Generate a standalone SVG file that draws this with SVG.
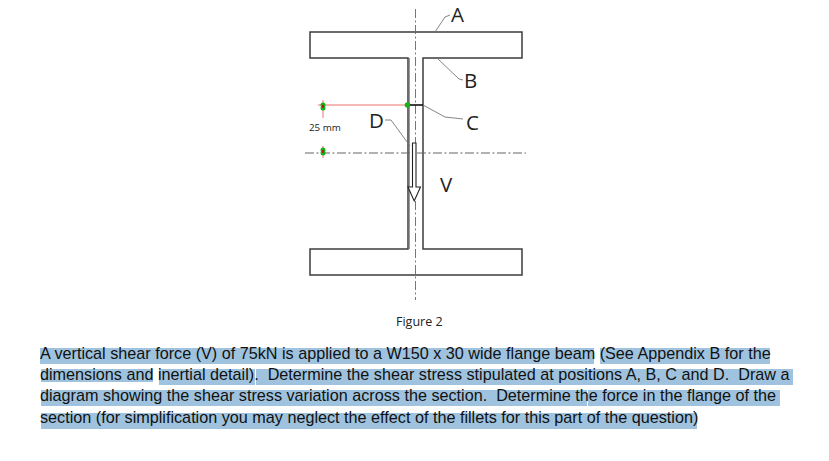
<svg xmlns="http://www.w3.org/2000/svg" width="829" height="461" viewBox="0 0 829 461">
<style>
.beam{fill:#fff;stroke:#3c3c3c;stroke-width:1.5}
.webline{fill:none;stroke:#999;stroke-width:1}
.cl{fill:none;stroke:#666;stroke-width:.9;stroke-dasharray:9 2.5 2 2.5}
.lead{fill:none;stroke:#777;stroke-width:.9}
.lab{font-family:"Open Sans","Liberation Sans",sans-serif;font-size:20.5px;fill:#222}
.hl{fill:#9fc3de}
.body{font-family:"Liberation Sans",Arial,sans-serif;font-size:16.19px;fill:#111;white-space:pre}
.pt{fill:#12b312}
.red{stroke:#ef7070;stroke-width:1;fill:none}
</style>
<rect width="829" height="461" fill="#fff"/>
<g id="highlight">
<rect class="hl" x="40" y="348" width="554" height="16"/>
<rect class="hl" x="600" y="348" width="170" height="16"/>
<rect class="hl" x="41" y="369" width="112" height="13"/>
<rect class="hl" x="159" y="369" width="96" height="16"/>
<rect class="hl" x="256" y="369" width="537" height="16"/>
<rect class="hl" x="41" y="390" width="546" height="16"/>
<rect class="hl" x="588" y="390" width="192" height="16"/>
<rect class="hl" x="41" y="413" width="656" height="16"/>
</g>
<g id="beam">
<path class="beam" d="M310 32H522V58H423V249H522V275H310V249H408V58H310Z"/>
<path class="webline" d="M409.500 58V249"/>
</g>
<g id="centerlines">
<path class="cl" d="M415.500 9V143"/>
<path class="cl" d="M415.500 201V300"/>
<path class="cl" d="M305 153H526" style="stroke-width:1.200"/>
</g>
<g id="connectors">
<path class="lead" d="M435 32L445 17L450 15"/>
<path class="lead" d="M437 58L459 79L463 80"/>
<path class="lead" d="M423 105L445 117L463 119"/>
<path class="lead" d="M385 120L391 120L410 146"/>
</g>
<g id="section-marker">
<path class="red" d="M318 105H407M323 100V110M323 110V118M323 146V158"/>
<circle class="pt" cx="323" cy="105" r="2.500"/>
<circle class="pt" cx="323" cy="108" r="2.500"/>
<circle class="pt" cx="323" cy="150" r="2.500"/>
<circle class="pt" cx="323" cy="153" r="2.500"/>
<rect x="322" y="105" width="2" height="3" fill="#b02020"/>
<rect x="322" y="150" width="2" height="3" fill="#b02020"/>
<circle class="pt" cx="407.500" cy="105" r="2.800"/>
<path d="M410 105H423" stroke="#111" stroke-width="1.600" fill="none"/>
</g>
<g id="arrow-V">
<path d="M412.500 143H416V187H420.500L414.200 201L408 187H412.500Z" fill="#fff" stroke="#222" stroke-width="1.100"/>
</g>
<g id="labels">
<text class="lab" x="451" y="22">A</text>
<text class="lab" x="464" y="88">B</text>
<text class="lab" x="466" y="130">C</text>
<text class="lab" x="369" y="128">D</text>
<text class="lab" x="440" y="192">V</text>
<text x="309" y="131" font-family="'Open Sans','Liberation Sans',sans-serif" font-size="9.800" fill="#222">25 mm</text>
<text x="396" y="326" font-family="'Open Sans','Liberation Sans',sans-serif" font-size="12.500" fill="#222">Figure 2</text>
</g>
<g id="paragraph">
<text class="body" x="40" y="359">A vertical shear force (V) of 75kN is applied to a W150 x 30 wide flange beam (See Appendix B for the</text>
<text class="body" x="40" y="380">dimensions and inertial detail).  Determine the shear stress stipulated at positions A, B, C and D.  Draw a</text>
<text class="body" x="40" y="401">diagram showing the shear stress variation across the section.  Determine the force in the flange of the</text>
<text class="body" x="40" y="423">section (for simplification you may neglect the effect of the fillets for this part of the question)</text>
</g>
</svg>
